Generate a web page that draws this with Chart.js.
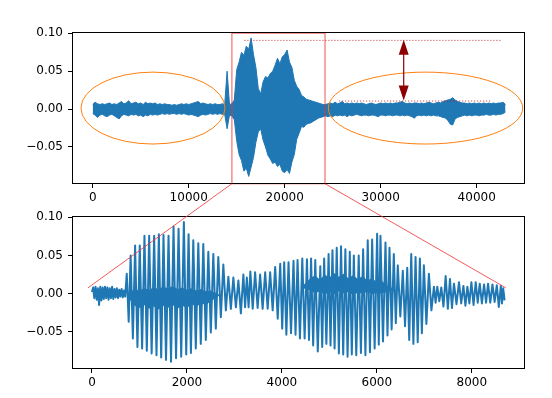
<!DOCTYPE html>
<html>
<head>
<meta charset="utf-8">
<script src="https://cdn.jsdelivr.net/npm/chart.js@4.4.1/dist/chart.umd.min.js"></script>
<style>
  html, body { margin: 0; padding: 0; background: #fff; }
  #wrap { position: relative; width: 552px; height: 398px; overflow: hidden; }
  #topChart { position: absolute; left: 0; top: 0; }
  #bottomChart { position: absolute; left: 0; top: 207px; }
  #overlay { position: absolute; left: 0; top: 0; pointer-events: none; }
</style>
</head>
<body>
<div id="wrap">
  <canvas id="topChart" width="552" height="207"></canvas>
  <canvas id="bottomChart" width="552" height="191"></canvas>
  <canvas id="overlay" width="552" height="398"></canvas>
</div>
<script>
// ===== DATA =====
// full recording: envelope read every 250 samples
const topStep = 250;
const topHi = [
  0.006, 0.009, 0.007, 0.006, 0.007, 0.006, 0.007, 0.008, 0.006, 0.007,
  0.006, 0.008, 0.010, 0.007, 0.008, 0.011, 0.007, 0.008, 0.009, 0.007,
  0.008, 0.006, 0.009, 0.007, 0.008, 0.007, 0.008, 0.006, 0.007, 0.006,
  0.007, 0.006, 0.006, 0.005, 0.006, 0.005, 0.006, 0.007, 0.006, 0.007,
  0.006, 0.007, 0.008, 0.009, 0.010, 0.007, 0.008, 0.007, 0.006, 0.007,
  0.006, 0.007, 0.006, 0.006, 0.007, 0.006, 0.050, 0.006, 0.007, 0.012,
  0.052, 0.062, 0.075, 0.071, 0.083, 0.079, 0.094, 0.072, 0.055, 0.027,
  0.020, 0.036, 0.043, 0.041, 0.047, 0.050, 0.058, 0.067, 0.060, 0.069,
  0.072, 0.078, 0.062, 0.055, 0.038, 0.030, 0.026, 0.018, 0.016, 0.013,
  0.012, 0.011, 0.010, 0.009, 0.008, 0.007, 0.006, 0.006, 0.007, 0.008,
  0.007, 0.009, 0.007, 0.008, 0.010, 0.007, 0.008, 0.007, 0.008, 0.007,
  0.008, 0.007, 0.008, 0.007, 0.006, 0.007, 0.008, 0.007, 0.006, 0.007,
  0.008, 0.007, 0.008, 0.007, 0.008, 0.007, 0.008, 0.008, 0.009, 0.010,
  0.008, 0.007, 0.008, 0.007, 0.008, 0.008, 0.007, 0.008, 0.007, 0.008,
  0.009, 0.008, 0.007, 0.008, 0.009, 0.008, 0.010, 0.011, 0.012, 0.013,
  0.015, 0.012, 0.010, 0.009, 0.008, 0.008, 0.007, 0.008, 0.007, 0.008,
  0.007, 0.008, 0.007, 0.008, 0.007, 0.008, 0.007, 0.008, 0.007, 0.008,
  0.008, 0.009, 0.006
];
const topLo = [
  -0.006, -0.008, -0.011, -0.008, -0.007, -0.009, -0.010, -0.008, -0.007, -0.009,
  -0.011, -0.013, -0.009, -0.007, -0.008, -0.009, -0.007, -0.008, -0.007, -0.009,
  -0.008, -0.010, -0.008, -0.009, -0.007, -0.008, -0.007, -0.008, -0.007, -0.006,
  -0.007, -0.006, -0.007, -0.006, -0.006, -0.007, -0.006, -0.007, -0.006, -0.007,
  -0.008, -0.007, -0.008, -0.009, -0.010, -0.008, -0.007, -0.008, -0.007, -0.006,
  -0.007, -0.006, -0.007, -0.006, -0.007, -0.007, -0.026, -0.008, -0.009, -0.014,
  -0.042, -0.060, -0.068, -0.082, -0.078, -0.089, -0.077, -0.064, -0.044, -0.030,
  -0.026, -0.041, -0.050, -0.061, -0.066, -0.072, -0.070, -0.076, -0.073, -0.082,
  -0.084, -0.080, -0.085, -0.070, -0.060, -0.040, -0.032, -0.023, -0.024, -0.020,
  -0.019, -0.018, -0.016, -0.014, -0.012, -0.011, -0.010, -0.009, -0.010, -0.009,
  -0.010, -0.008, -0.009, -0.008, -0.009, -0.008, -0.010, -0.008, -0.009, -0.008,
  -0.007, -0.008, -0.009, -0.008, -0.008, -0.009, -0.008, -0.008, -0.009, -0.010,
  -0.008, -0.008, -0.009, -0.008, -0.008, -0.009, -0.008, -0.008, -0.009, -0.008,
  -0.009, -0.008, -0.009, -0.010, -0.012, -0.009, -0.008, -0.009, -0.008, -0.009,
  -0.008, -0.009, -0.008, -0.009, -0.009, -0.010, -0.011, -0.012, -0.015, -0.020,
  -0.021, -0.013, -0.011, -0.010, -0.009, -0.008, -0.009, -0.008, -0.009, -0.008,
  -0.008, -0.009, -0.008, -0.008, -0.007, -0.008, -0.008, -0.007, -0.008, -0.007,
  -0.007, -0.006, -0.004
];

// zoomed segment: quiet lead-in (every 25 samples), then one peak + trough per cycle
const leadStep = 25;
const leadY = [
  0.002, 0.008, -0.006, 0.009, -0.008, 0.007, -0.015, 0.009, -0.009, 0.008,
  -0.007, 0.009, -0.006, 0.008, -0.008, 0.007, -0.006, 0.009, -0.007, 0.006,
  -0.005, 0.007, -0.006, 0.005, -0.004, 0.006, -0.005, 0.004, -0.004
];
const zoomPeakX = [
  733, 815, 909, 1007, 1106, 1205, 1310, 1409, 1507, 1613,
  1718, 1824, 1936, 2035, 2134, 2240, 2345, 2451, 2556, 2661,
  2767, 2873, 2978, 3084, 3189, 3262, 3336, 3436, 3542, 3648,
  3753, 3859, 3965, 4049, 4140, 4245, 4330, 4430, 4528, 4615,
  4703, 4809, 4890, 4984, 5065, 5155, 5246, 5337, 5430, 5515,
  5618, 5711, 5808, 5901, 6006, 6076, 6182, 6266, 6357, 6441,
  6547, 6640, 6724, 6815, 6906, 6990, 7096, 7202, 7273, 7357,
  7449, 7540, 7624, 7730, 7823, 7907, 7991, 8082, 8167, 8258,
  8342, 8435, 8526, 8611, 8660
];
const zoomPeak = [
  0.026, 0.050, 0.063, 0.063, 0.076, 0.076, 0.076, 0.078, 0.077, 0.076,
  0.088, 0.085, 0.094, 0.078, 0.070, 0.066, 0.065, 0.055, 0.052, 0.048,
  0.038, 0.022, 0.021, 0.017, 0.025, 0.021, 0.029, 0.028, 0.025, 0.028,
  0.028, 0.035, 0.039, 0.041, 0.041, 0.043, 0.044, 0.046, 0.045, 0.046,
  0.044, 0.036, 0.046, 0.052, 0.057, 0.060, 0.062, 0.058, 0.055, 0.050,
  0.050, 0.058, 0.070, 0.071, 0.0785, 0.076, 0.067, 0.060, 0.052, 0.037,
  0.030, 0.034, 0.052, 0.048, 0.046, 0.037, 0.026, 0.009, 0.009, 0.008,
  0.023, 0.019, 0.013, 0.015, 0.010, 0.009, 0.015, 0.015, 0.013, 0.012,
  0.013, 0.012, 0.011, 0.010, 0.007
];
const zoomTrough = [
  -0.037, -0.059, -0.070, -0.072, -0.075, -0.0785, -0.081, -0.084, -0.087, -0.0895,
  -0.085, -0.083, -0.080, -0.078, -0.072, -0.066, -0.061, -0.051, -0.046, -0.031,
  -0.022, -0.020, -0.018, -0.026, -0.018, -0.018, -0.020, -0.019, -0.020, -0.020,
  -0.022, -0.033, -0.046, -0.054, -0.052, -0.054, -0.059, -0.059, -0.061, -0.068,
  -0.076, -0.070, -0.066, -0.068, -0.072, -0.0785, -0.080, -0.083, -0.080, -0.081,
  -0.078, -0.081, -0.077, -0.072, -0.067, -0.063, -0.055, -0.047, -0.039, -0.030,
  -0.043, -0.061, -0.066, -0.064, -0.052, -0.040, -0.022, -0.012, -0.010, -0.017,
  -0.020, -0.019, -0.014, -0.013, -0.016, -0.013, -0.015, -0.012, -0.013, -0.012,
  -0.012, -0.011, -0.0175, -0.013, -0.009
];
// dense core of the zoomed waveform
const zoomCoreX = [
  800, 900, 1000, 1100, 1200, 1300, 1400, 1500, 1600, 1700,
  1800, 1900, 2000, 2100, 2200, 2300, 2400, 2500, 2600, 2700,
  4400, 4600, 4700, 4800, 4900, 5000, 5100, 5200, 5300, 5400,
  5500, 5600, 5700, 5800, 5900, 6000, 6100, 6200, 6300, 6400
];
const zoomCoreHi = [
  0.002, 0.006, 0.004, 0.007, 0.005, 0.008, 0.006, 0.009, 0.007, 0.010,
  0.006, 0.008, 0.005, 0.007, 0.004, 0.006, 0.003, 0.004, 0.001, -0.002,
  0.008, 0.020, 0.024, 0.018, 0.025, 0.021, 0.027, 0.022, 0.026, 0.020,
  0.024, 0.019, 0.023, 0.017, 0.020, 0.015, 0.017, 0.011, 0.008, 0.005
];
const zoomCoreLo = [
  -0.008, -0.016, -0.019, -0.015, -0.020, -0.017, -0.021, -0.016, -0.019, -0.015,
  -0.020, -0.016, -0.019, -0.014, -0.017, -0.013, -0.015, -0.010, -0.006, -0.002,
  0.008, 0.004, 0.000, 0.003, -0.002, 0.002, -0.001, 0.003, 0.000, 0.002,
  -0.002, 0.001, 0.000, 0.002, -0.001, 0.001, 0.000, 0.002, 0.003, 0.004
];

// ticks
const topXTicks = [0, 10000, 20000, 30000, 40000];
const zoomXTicks = [0, 2000, 4000, 6000, 8000];
const yTicks = [-0.05, 0.00, 0.05, 0.10];
const yTickLabels = ['\u22120.05', '0.00', '0.05', '0.10'];

// ===== ANNOTATIONS (data coords) =====
const zoomBox = { x0: 14500, x1: 24200, y0: -0.0986, y1: 0.1003 };
const zoomAnchors = [[-84, 0.0075], [8716, 0.0075]];
const noiseEllipses = [
  { cx: 6280, cy: 0.0013, w: 15000, h: 0.095 },
  { cx: 34667, cy: 0.0013, w: 20250, h: 0.095 }
];
const peakLine = { y: 0.0914, x0: 15792, x1: 42600 };
const noiseLine = { y: 0.0113, x0: 25656, x1: 41458 };
const arrowX = 32396;

// ===== STYLE =====
const blue = '#1f77b4';
const tickFont = { family: 'DejaVu Sans', size: 12 };
Chart.defaults.font.family = 'DejaVu Sans';
Chart.defaults.color = '#000';

function scalesFor(xMin, xMax, xTicks, xHeight) {
  return {
    x: {
      type: 'linear', min: xMin, max: xMax, bounds: 'data',
      afterBuildTicks: s => { s.ticks = xTicks.map(v => ({ value: v })); },
      afterFit: s => { s.height = xHeight; },
      ticks: { font: tickFont, color: '#000', padding: 3, maxRotation: 0, autoSkip: false, callback: v => String(v) },
      grid: { drawOnChartArea: false, drawTicks: true, tickLength: 4, tickColor: '#000' },
      border: { display: false }
    },
    y: {
      type: 'linear', min: -0.099, max: 0.1018, bounds: 'data',
      afterBuildTicks: s => { s.ticks = yTicks.map(v => ({ value: v })); },
      afterFit: s => { s.width = 72; s.paddingTop = 0; s.paddingBottom = 0; },
      ticks: { font: tickFont, color: '#000', padding: 5, autoSkip: false, callback: (v, i) => yTickLabels[i] },
      grid: { drawOnChartArea: false, drawTicks: true, tickLength: 4, tickColor: '#000' },
      border: { display: false }
    }
  };
}

const framePlugin = {
  id: 'frame',
  afterDraw(chart) {
    const { ctx, chartArea: a } = chart;
    ctx.save();
    ctx.strokeStyle = '#000';
    ctx.lineWidth = 1;
    ctx.strokeRect(Math.round(a.left) + 0.5, Math.round(a.top) + 0.5,
      Math.round(a.right - a.left) - 1, Math.round(a.bottom - a.top) - 1);
    ctx.restore();
  }
};

function arrowHead(ctx, x, tipY, dir) {
  ctx.beginPath();
  ctx.moveTo(x, tipY);
  ctx.lineTo(x - 5, tipY + dir * 15);
  ctx.lineTo(x + 5, tipY + dir * 15);
  ctx.closePath();
  ctx.fill();
}

const marksPlugin = {
  id: 'marks',
  afterDatasetsDraw(chart) {
    const { ctx } = chart;
    const sx = chart.scales.x, sy = chart.scales.y;
    const px = v => sx.getPixelForValue(v), py = v => sy.getPixelForValue(v);
    ctx.save();
    // orange ellipses round the quiet parts
    ctx.strokeStyle = '#ff7f0e';
    ctx.lineWidth = 1;
    noiseEllipses.forEach(e => {
      const cx = px(e.cx), cy = py(e.cy);
      const rx = (px(e.cx + e.w / 2) - px(e.cx - e.w / 2)) / 2;
      const ry = (py(e.cy - e.h / 2) - py(e.cy + e.h / 2)) / 2;
      ctx.beginPath();
      ctx.ellipse(cx, cy, rx, ry, 0, 0, Math.PI * 2);
      ctx.stroke();
    });
    // dotted level lines
    ctx.strokeStyle = 'rgba(190,20,20,0.75)';
    ctx.setLineDash([1.2, 1.8]);
    [peakLine, noiseLine].forEach(l => {
      ctx.beginPath();
      ctx.moveTo(px(l.x0), py(l.y) + 0.5);
      ctx.lineTo(px(l.x1), py(l.y) + 0.5);
      ctx.stroke();
    });
    ctx.setLineDash([]);
    // double arrow
    const ax = px(arrowX), aTop = py(peakLine.y), aBot = py(noiseLine.y);
    ctx.strokeStyle = '#8b0000';
    ctx.fillStyle = '#8b0000';
    ctx.lineWidth = 1.2;
    ctx.beginPath();
    ctx.moveTo(ax, aTop + 10);
    ctx.lineTo(ax, aBot - 10);
    ctx.stroke();
    arrowHead(ctx, ax, aTop, 1);
    arrowHead(ctx, ax, aBot, -1);
    // zoom rectangle
    ctx.strokeStyle = 'rgba(240,50,50,0.7)';
    ctx.lineWidth = 1.2;
    ctx.strokeRect(px(zoomBox.x0), py(zoomBox.y1), px(zoomBox.x1) - px(zoomBox.x0), py(zoomBox.y0) - py(zoomBox.y1));
    ctx.restore();
  }
};

// ===== TOP CHART =====
const topPoints = arr => arr.map((y, i) => ({ x: i * topStep, y }));
const topChart = new Chart(document.getElementById('topChart'), {
  type: 'line',
  data: {
    datasets: [
      { data: topPoints(topHi), borderColor: blue, borderWidth: 1, pointRadius: 0, tension: 0, fill: false },
      { data: topPoints(topLo), borderColor: blue, borderWidth: 1, pointRadius: 0, tension: 0, fill: '-1', backgroundColor: blue }
    ]
  },
  options: {
    responsive: false, animation: false, events: [],
    layout: { padding: { top: 32, right: 27, left: 0, bottom: 0 } },
    plugins: { legend: { display: false }, tooltip: { enabled: false } },
    scales: scalesFor(-2156, 45031, topXTicks, 23)
  },
  plugins: [marksPlugin, framePlugin]
});

// ===== ZOOMED CHART =====
const zoomPoints = leadY.map((y, i) => ({ x: i * leadStep, y }));
zoomPeakX.forEach((x, i) => {
  zoomPoints.push({ x, y: zoomPeak[i] });
  const next = i + 1 < zoomPeakX.length ? zoomPeakX[i + 1] : x + 60;
  zoomPoints.push({ x: (x + next) / 2, y: zoomTrough[i] });
});
const corePoints = arr => arr.map((y, i) => ({ x: zoomCoreX[i], y }));
const bottomChart = new Chart(document.getElementById('bottomChart'), {
  type: 'line',
  data: {
    datasets: [
      { data: zoomPoints, borderColor: blue, borderWidth: 2, pointRadius: 0, tension: 0, fill: false, borderJoinStyle: 'round' },
      { data: corePoints(zoomCoreHi), borderWidth: 0, pointRadius: 0, tension: 0, fill: false },
      { data: corePoints(zoomCoreLo), borderWidth: 0, pointRadius: 0, tension: 0, fill: '-1', backgroundColor: blue }
    ]
  },
  options: {
    responsive: false, animation: false, events: [],
    layout: { padding: { top: 9, right: 27, left: 0, bottom: 0 } },
    plugins: { legend: { display: false }, tooltip: { enabled: false } },
    scales: scalesFor(-420, 9120, zoomXTicks, 29)
  },
  plugins: [framePlugin]
});

// ===== CONNECTORS =====
const ov = document.getElementById('overlay').getContext('2d');
const bottomTop = 207;
ov.strokeStyle = 'rgba(240,50,50,0.8)';
ov.lineWidth = 1;
[zoomBox.x0, zoomBox.x1].forEach((bx, i) => {
  ov.beginPath();
  ov.moveTo(topChart.scales.x.getPixelForValue(bx), topChart.scales.y.getPixelForValue(zoomBox.y0));
  ov.lineTo(bottomChart.scales.x.getPixelForValue(zoomAnchors[i][0]),
    bottomTop + bottomChart.scales.y.getPixelForValue(zoomAnchors[i][1]));
  ov.stroke();
});
</script>
</body>
</html>
